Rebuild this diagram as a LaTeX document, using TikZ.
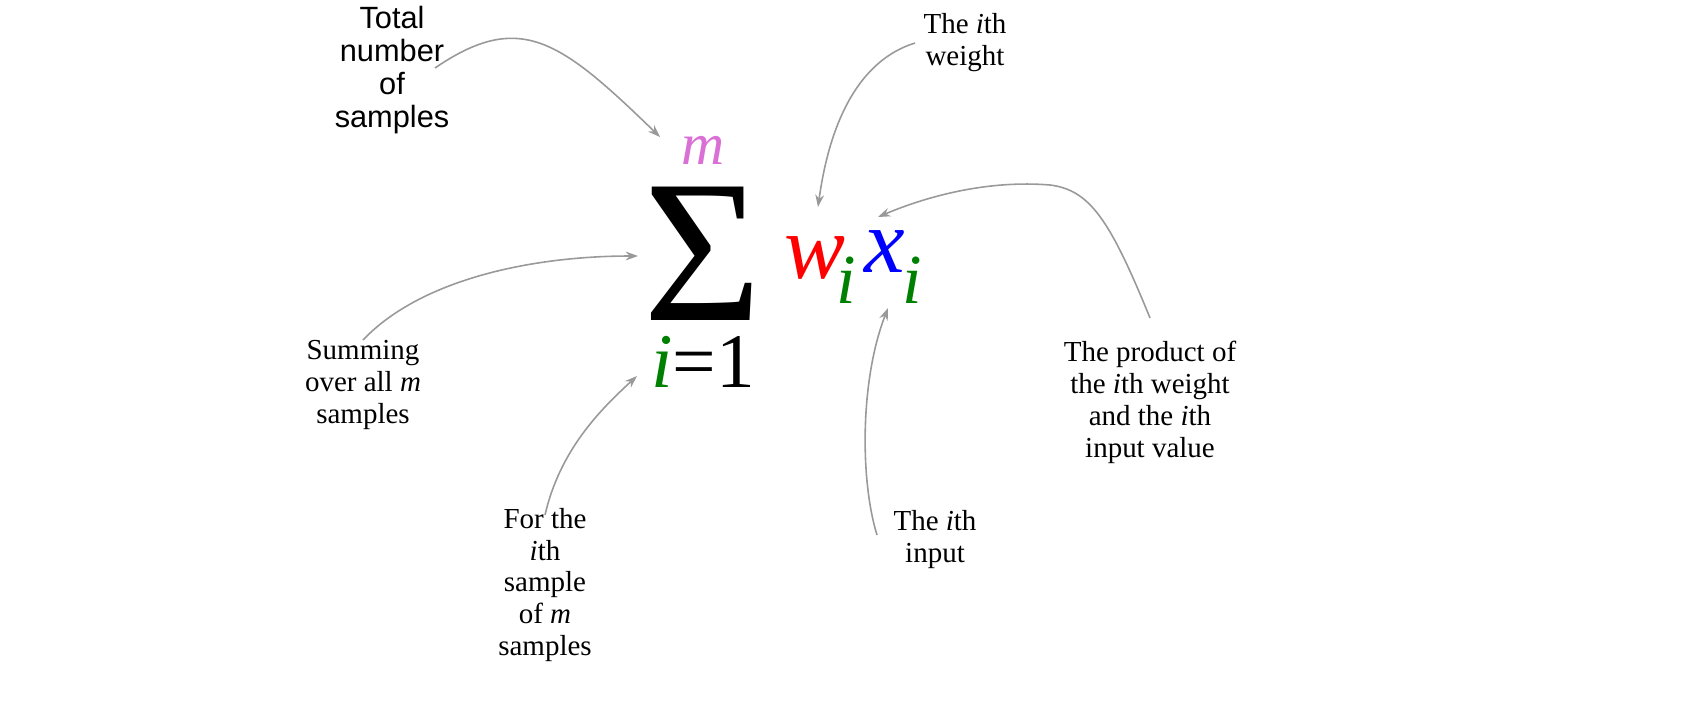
\documentclass[tikz,border=0pt]{standalone}
\usepackage{fontspec}
\setmainfont{Liberation Serif}
\newfontfamily\lsans{Liberation Sans}
\usetikzlibrary{arrows.meta}
\definecolor{mpurple}{RGB}{218,112,214}
\definecolor{igreen}{RGB}{0,128,0}
\begin{document}
\begin{tikzpicture}[x=0.02cm,y=-0.02cm,
 lbl/.style={align=center,font=\fontsize{16.5}{18.2}\selectfont},
 arr/.style={draw=gray!80,line width=0.9pt,-{Stealth[length=7pt,width=5pt]}}]
\node[lbl,font=\lsans\fontsize{17.5}{18.8}\selectfont] (tot) at (392,70) {Total\\number\\of\\samples};
\node[font=\fontsize{34}{34}\selectfont\itshape,text=mpurple] (m) at (703,150) {m};
\node[font=\fontsize{116}{116}\selectfont,inner sep=0] (sig) at (703,254) {Σ};
\node[font=\fontsize{44}{44}\selectfont] (i1) at (703,362) {\textcolor{igreen}{\itshape i}=1};
\node[font=\fontsize{52}{52}\selectfont\itshape,text=red] (w) at (815,258) {w};
\node[font=\fontsize{40}{40}\selectfont\itshape,text=igreen] (wi) at (846,280) {i};
\node[font=\fontsize{52}{52}\selectfont\itshape,text=blue] (x) at (885,252) {x};
\node[font=\fontsize{40}{40}\selectfont\itshape,text=igreen] (xi) at (912,280) {i};
\node[lbl] (wt) at (965,43) {The \textit{i}th\\weight};
\node[lbl] (sum) at (363,385) {Summing\\over all \textit{m}\\samples};
\node[lbl] (for) at (545,585) {For the\\\textit{i}th\\sample\\of \textit{m}\\samples};
\node[lbl] (inp) at (935,540) {The \textit{i}th\\input};
\node[lbl] (prod) at (1150,402) {The product of\\the \textit{i}th weight\\and the \textit{i}th\\input value};
\coordinate (a1) at (660,137);
\coordinate (a2) at (818,207);
\coordinate (a3) at (638,256);
\coordinate (a4) at (637,376);
\coordinate (a5) at (888,308);
\coordinate (a6) at (878,217);
\draw[arr] (435,68) .. controls (520,10) and (560,40) .. (a1);
\draw[arr] (915,43) .. controls (860,60) and (830,120) .. (a2);
\draw[arr] (363,340) .. controls (420,280) and (530,256) .. (a3);
\draw[arr] (545,515) .. controls (560,450) and (600,410) .. (a4);
\draw[arr] (877,535) .. controls (860,480) and (860,380) .. (a5);
\draw[arr] (1150,318) .. controls (1110,220) and (1090,190) .. (1050,185) .. controls (990,180) and (930,195) .. (a6);
\pgfresetboundingbox
\useasboundingbox (0,0) rectangle (1694,717);
\end{tikzpicture}
\end{document}
